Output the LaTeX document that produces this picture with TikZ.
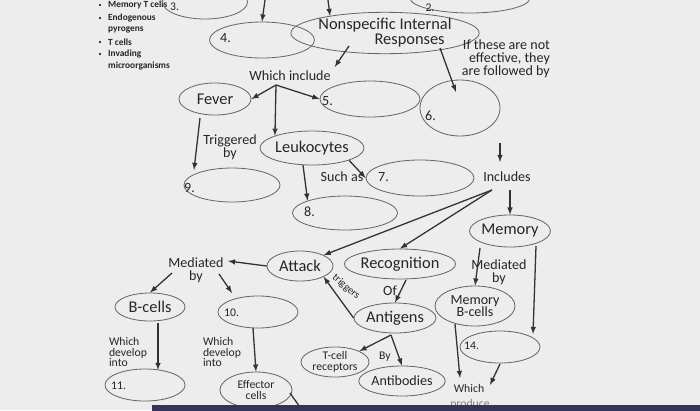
\documentclass[tikz,border=0pt]{standalone}
\usepackage{fontspec}
\setmainfont{Carlito}
\usetikzlibrary{shapes.geometric}
\begin{document}
\begin{tikzpicture}[x=0.03cm,y=-0.03cm,
  ov/.style 2 args={draw=black!60,line width=0.7pt,ellipse,inner sep=0pt,minimum width=#1*0.8536pt,minimum height=#2*0.8536pt},
  lab/.style={font=\fontsize{12}{13}\selectfont,text=black!85},
  sm/.style={font=\fontsize{10}{11}\selectfont,text=black!85,align=left},
  tiny/.style={font=\fontsize{8}{9}\selectfont\bfseries,text=black!85,align=left},
  arr/.style={->,>=latex,line width=1.1pt,black!80},
  big/.style={font=\fontsize{14}{15}\selectfont,text=black!85}]
\fill[black!7] (0,0) rectangle (700,410);
\useasboundingbox (0,0) rectangle (700,410);
\begin{scope}
\clip (0,0) rectangle (700,410);
% left list
\foreach \t/\y in {Memory T cells/5,Endogenous/18,pyrogens/30,T cells/42,Invading/54,microorganisms/66}
  {\node[tiny,anchor=west] at (104,\y) {\t};}
\foreach \y in {5,18,42,54} {\fill (100,\y) circle (0.9pt);}
% ellipses
\node[ov={85}{34}] (e3) at (205,2) {};
\node[sm,anchor=west] at (166,7) {3.};
\node[ov={105}{36}] (e4) at (262,40) {};
\node[lab,anchor=west] at (216,38) {4.};
\node[ov={130}{38},big,align=center] (ns) at (385,33) {Nonspecific Internal\\[-2pt]\hspace*{3em}Responses};
\node[ov={120}{30}] (e2) at (470,-2) {};
\node[sm] at (430,8) {2.};
\coordinate (t1) at (265,0); \coordinate (t2) at (328,0);
\draw[arr] (t1) -- (e4.north);
\draw[arr] (t2) -- (330,16);
\node[lab] (wi) at (290,76) {Which include};
\draw[arr] (349,46) -- (wi.north east);
\node[ov={72}{32},big] (fever) at (215,99) {Fever};
\node[ov={100}{36}] (e5) at (370,99) {};
\node[lab,anchor=west] at (318,101) {5.};
\node[ov={80}{56}] (e6) at (460,108) {};
\node[lab,anchor=west] at (421,116) {6.};
\coordinate (wib) at (276,85);
\draw[arr] (wib) -- (fever.east);
\draw[arr] (wib) -- (e5.west);
\node[ov={98}{34},big] (leu) at (312,148) {Leukocytes};
\draw[arr] (wib) -- (leu.north west);
\node[lab,align=right,anchor=north east] (ifn) at (554,36) {If these are not\\[-2pt]effective, they\\[-2pt]are followed by};
\draw[arr] (440,48) -- (456,92);
\node[lab,align=center] at (230,147) {Triggered\\[-2pt]by};
\node[ov={96}{34}] (e9) at (232,185) {};
\node[lab,anchor=west] at (180,188) {9.};
\coordinate (fv) at (200,118);
\draw[arr] (fv) -- (194,170);
\node[ov={108}{36}] (e7) at (420,178) {};
\node[lab,anchor=west] at (374,177) {7.};
\node[lab] at (342,177) {Such as};
\draw[arr] (leu.south east) -- (e7.west);
\node[ov={105}{34}] (e8) at (345,213) {};
\node[lab,anchor=west] at (300,212) {8.};
\draw[arr] (303,165) -- (e8.north west);
\node[lab] (inc) at (507,177) {Includes};
\draw[arr] (500,143) -- (500,162);
\coordinate (hub) at (492,190);
\node[ov={78}{32},big] (mem) at (510,231) {Memory};
\node[ov={66}{30},big] (att) at (300,266) {Attack};
\node[ov={100}{30},big] (rec) at (400,264) {Recognition};
\draw[arr] (hub) -- (att.north east);
\draw[arr] (hub) -- (rec.north);
\draw[arr] (510,190) -- (mem.north);
\node[lab,align=center] (mb) at (196,270) {Mediated\\[-2pt]by};
\draw[arr] (att.west) -- (228,261);
\node[ov={70}{28},big] (bc) at (150,307) {B-cells};
\node[ov={80}{32}] (e10) at (258,312) {};
\node[sm,anchor=west] at (220,313) {10.};
\draw[arr] (172,273) -- (bc.north);
\draw[arr] (219,274) -- (232,293);
\node[sm] at (128,352) {Which\\[-2pt]develop\\[-2pt]into};
\node[ov={80}{32}] (e11) at (145,385) {};
\node[sm,anchor=west] at (107,386) {11.};
\draw[arr] (158,323) -- (158,370);
\node[sm] at (222,352) {Which\\[-2pt]develop\\[-2pt]into};
\node[ov={72}{36},sm,align=center] (eff) at (256,390) {Effector\\[-2pt]cells};
\draw[arr] (253,328) -- (eff.north);
\node[ov={82}{30},big] (ant) at (395,318) {Antigens};
\node[lab] at (390,291) {Of};
\draw[arr] (406,280) -- (ant.north);
\draw[arr] (ant.west) -- (att.south east);
\node[font=\fontsize{9}{9}\selectfont,text=black!85,rotate=-40] at (346,287) {triggers};
\node[ov={68}{30},sm,align=center] (tcr) at (335,362) {T-cell\\[-2pt]receptors};
\node[ov={76}{30},lab] (ab) at (402,381) {Antibodies};
\node[sm] at (385,357) {By};
\coordinate (ab0) at (391,335);
\draw[arr] (ab0) -- (tcr.north east);
\draw[arr] (ab0) -- (ab.north);
\node[lab,align=center] at (499,272) {Mediated\\[-2pt]by};
\node[ov={80}{40},lab,align=center] (mbc) at (475,306) {Memory\\[-2pt]B-cells};
\draw[arr] (480,248) -- (mbc.north);
\node[ov={80}{32}] (e14) at (500,347) {};
\node[sm,anchor=west] at (460,346) {14.};
\draw[arr] (536,246) -- (533,334);
\node[sm] at (469,388) {Which};
\node[sm,text=black!50] at (470,404) {produce};
\draw[arr] (455,324) -- (460,378);
\draw[arr] (500,364) -- (490,385);
\draw[line width=1.1pt,black!80] (290,393) -- (302,410);
\fill[blue!20!black!80] (152,405) rectangle (700,412);
\end{scope}
\end{tikzpicture}
\end{document}
